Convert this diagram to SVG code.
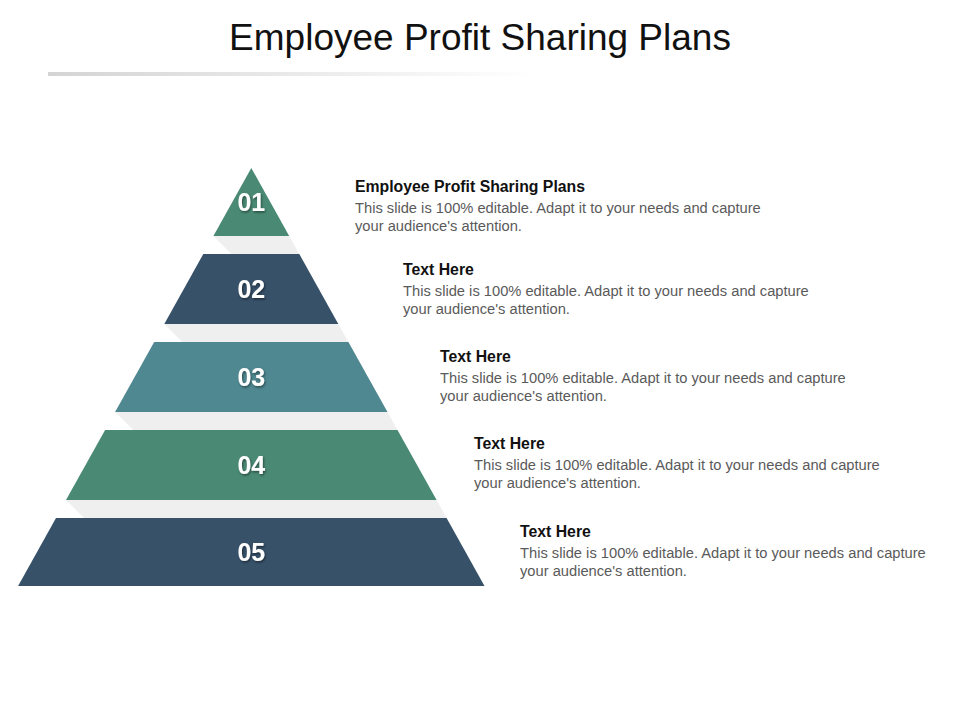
<svg xmlns="http://www.w3.org/2000/svg" width="960" height="720" viewBox="0 0 960 720">
  <defs>
    <linearGradient id="bar" x1="0" y1="0" x2="1" y2="0">
      <stop offset="0" stop-color="#d4d4d4"/>
      <stop offset="1" stop-color="#ffffff"/>
    </linearGradient>
    <filter id="sh" x="-30%" y="-30%" width="160%" height="160%">
      <feDropShadow dx="1" dy="1.5" stdDeviation="1" flood-color="#000" flood-opacity="0.45"/>
    </filter>
    <style>
      .title { font-family: "Liberation Sans", Arial, sans-serif; font-size: 37px; fill: #111; }
      .num { font-family: "Liberation Sans", Arial, sans-serif; font-size: 25px; font-weight: bold; fill: #fff; text-anchor: middle; }
      .hd { font-family: "Liberation Sans", Arial, sans-serif; font-size: 15.8px; font-weight: bold; fill: #111; }
      .bd { font-family: "Liberation Sans", Arial, sans-serif; font-size: 14.7px; fill: #5a5a5a; }
      .band { fill: #efefef; }
      .green { fill: #4a8a74; }
      .navy { fill: #375169; }
      .teal { fill: #4f8891; }
    </style>
  </defs>
  <rect width="960" height="720" fill="#fff"/>
  <text class="title" x="480" y="49.5" text-anchor="middle">Employee Profit Sharing Plans</text>
  <rect x="48" y="72" width="488" height="4" fill="url(#bar)"/>

  <g id="bands">
    <polygon class="band" points="213.4,236 289.2,236 299.3,254 231.4,254"/>
    <polygon class="band" points="164.3,324 338.3,324 348.4,342 182.3,342"/>
    <polygon class="band" points="115.1,412 387.5,412 397.5,430 133.1,430"/>
    <polygon class="band" points="66,500 436.6,500 446.6,518 84,518"/>
  </g>

  <g id="tier1">
    <polygon class="green" points="251.3,168 289.2,236 213.4,236"/>
    <text class="num" x="251.3" y="211" filter="url(#sh)">01</text>
  </g>
  <g id="tier2">
    <polygon class="navy" points="203.3,254 299.3,254 338.3,324 164.3,324"/>
    <text class="num" x="251.3" y="298" filter="url(#sh)">02</text>
  </g>
  <g id="tier3">
    <polygon class="teal" points="154.2,342 348.4,342 387.5,412 115.1,412"/>
    <text class="num" x="251.3" y="386" filter="url(#sh)">03</text>
  </g>
  <g id="tier4">
    <polygon class="green" points="105.1,430 397.5,430 436.6,500 66,500"/>
    <text class="num" x="251.3" y="474" filter="url(#sh)">04</text>
  </g>
  <g id="tier5">
    <polygon class="navy" points="56,518 446.6,518 484.5,586 18.1,586"/>
    <text class="num" x="251.3" y="561" filter="url(#sh)">05</text>
  </g>

  <g id="connectors"></g>

  <g id="text1">
    <text class="hd" x="355" y="192">Employee Profit Sharing Plans</text>
    <text class="bd" x="355" y="213">This slide is 100% editable. Adapt it to your needs and capture</text>
    <text class="bd" x="355" y="231">your audience's attention.</text>
  </g>
  <g id="text2">
    <text class="hd" x="403" y="274.5">Text Here</text>
    <text class="bd" x="403" y="295.5">This slide is 100% editable. Adapt it to your needs and capture</text>
    <text class="bd" x="403" y="313.5">your audience's attention.</text>
  </g>
  <g id="text3">
    <text class="hd" x="440" y="361.5">Text Here</text>
    <text class="bd" x="440" y="382.5">This slide is 100% editable. Adapt it to your needs and capture</text>
    <text class="bd" x="440" y="400.5">your audience's attention.</text>
  </g>
  <g id="text4">
    <text class="hd" x="474" y="449">Text Here</text>
    <text class="bd" x="474" y="470">This slide is 100% editable. Adapt it to your needs and capture</text>
    <text class="bd" x="474" y="488">your audience's attention.</text>
  </g>
  <g id="text5">
    <text class="hd" x="520" y="536.5">Text Here</text>
    <text class="bd" x="520" y="557.5">This slide is 100% editable. Adapt it to your needs and capture</text>
    <text class="bd" x="520" y="575.5">your audience's attention.</text>
  </g>
</svg>
